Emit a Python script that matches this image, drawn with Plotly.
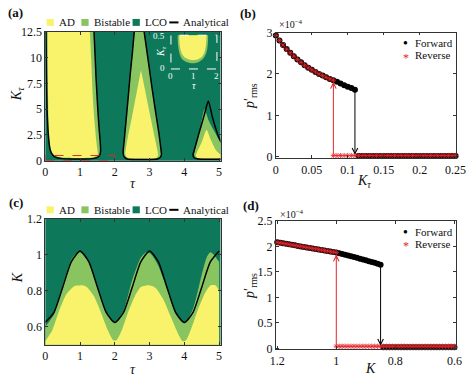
import plotly.graph_objects as go

FONT = "Liberation Serif"
C_AD = "#f9f36b"
C_BI = "#88c561"
C_LCO = "#0e785a"
C_RED = "#e3262b"
W, H = 474, 384


def px(x):
    return x / W


def py(y):
    return 1 - y / H


# ======================= DATA =======================
# (a) tau - K_tau map
a_tau_ticks = [0, 1, 2, 3, 4, 5]
a_k_ticks = [0, 2.5, 5, 7.5, 10, 12.5]
a_k_ticktext = ["0", "2.5", "5", "7.5", "10", "12.5"]

a_ana1_tau = [0.02, 0.03, 0.05, 0.07, 0.10, 0.13, 0.18, 0.25, 0.35, 0.50, 0.80, 1.10, 1.35, 1.48, 1.56, 1.59, 1.58, 1.55, 1.51, 1.46, 1.40]
a_ana1_k = [12.6, 9.0, 5.0, 3.4, 2.0, 1.2, 0.70, 0.42, 0.28, 0.20, 0.17, 0.17, 0.20, 0.30, 0.50, 0.90, 1.80, 3.00, 5.00, 8.00, 12.6]
a_ad1_tau = [0.07, 0.08, 0.10, 0.13, 0.18, 0.25, 0.35, 0.50, 0.80, 1.10, 1.35, 1.46, 1.51, 1.50, 1.47, 1.41, 1.36, 1.33, 1.28]
a_ad1_k = [12.6, 6.0, 3.0, 1.6, 0.90, 0.55, 0.38, 0.30, 0.26, 0.26, 0.30, 0.42, 0.65, 1.0, 1.8, 4.0, 6.6, 9.0, 12.6]

a_ana2_tau = [2.56, 2.505, 2.44, 2.38, 2.32, 2.27, 2.24, 2.25, 2.29, 2.36, 2.60, 3.00, 3.22, 3.30, 3.34, 3.33, 3.27, 3.16, 3.06, 2.97, 2.84]
a_ana2_k = [12.6, 10.5, 8.3, 6.0, 3.8, 2.0, 0.9, 0.5, 0.3, 0.17, 0.12, 0.12, 0.16, 0.30, 0.60, 1.0, 2.6, 5.0, 7.3, 9.5, 12.6]
a_ad2_tau = [2.75, 2.62, 2.49, 2.37, 2.32, 2.30, 2.33, 2.40, 2.70, 3.10, 3.20, 3.24, 3.23, 3.15, 3.04, 2.89, 2.80]
a_ad2_k = [8.8, 6.5, 4.2, 2.2, 1.2, 0.7, 0.4, 0.24, 0.20, 0.20, 0.28, 0.5, 0.9, 2.2, 4.0, 6.5, 8.0]

a_ana3_tau = [5.30, 4.60, 4.40, 4.30, 4.26, 4.25, 4.29, 4.42, 4.57, 4.69, 4.81, 4.95, 5.05, 5.20]
a_ana3_k = [0.15, 0.15, 0.17, 0.25, 0.40, 0.60, 1.07, 2.65, 4.40, 5.80, 4.20, 2.65, 1.86, 0.90]
a_bi3_tau = [5.30, 4.40, 4.31, 4.28, 4.31, 4.45, 4.58, 4.70, 4.82, 4.92, 5.04, 5.30]
a_bi3_k = [0.17, 0.18, 0.26, 0.6, 1.1, 3.0, 5.0, 3.9, 3.1, 2.5, 1.75, 0.8]
a_ad3_tau = [5.30, 4.45, 4.36, 4.33, 4.36, 4.50, 4.64, 4.75, 4.90, 5.04, 5.30]
a_ad3_k = [0.22, 0.22, 0.28, 0.5, 0.8, 1.8, 3.0, 2.1, 1.07, 0.6, 0.35]

# zoom box of inset
a_box_tau = [0, 2]
a_box_k = [0, 0.5]

# inset (0<=tau<=2, 0<=K_tau<=0.5)
ins_bi_tau = [0.29, 0.30, 0.33, 0.40, 0.50, 0.70, 0.95, 1.20, 1.40, 1.52, 1.58, 1.61, 1.62]
ins_bi_k = [0.52, 0.4, 0.3, 0.2, 0.14, 0.10, 0.085, 0.10, 0.15, 0.22, 0.30, 0.40, 0.52]
ins_ad_tau = [0.36, 0.37, 0.41, 0.48, 0.60, 0.80, 0.95, 1.15, 1.35, 1.46, 1.52, 1.55]
ins_ad_k = [0.52, 0.4, 0.3, 0.22, 0.17, 0.14, 0.13, 0.14, 0.18, 0.25, 0.35, 0.52]

# (b) p'_rms (x1e-4) vs K_tau
b_k_upper = [0.000, 0.005, 0.010, 0.015, 0.020, 0.025, 0.030, 0.035, 0.040, 0.045, 0.050, 0.055,
             0.060, 0.065, 0.070, 0.075, 0.080, 0.085, 0.090, 0.095, 0.100, 0.105, 0.110]
b_p_upper = [2.93, 2.81, 2.70, 2.60, 2.51, 2.43, 2.35, 2.28, 2.21, 2.15, 2.10, 2.05,
             2.00, 1.96, 1.92, 1.88, 1.85, 1.81, 1.77, 1.73, 1.69, 1.66, 1.62]
b_k_low_fwd = [0.115, 0.120, 0.125, 0.130, 0.135, 0.140, 0.145, 0.150, 0.155, 0.160, 0.165, 0.170, 0.175, 0.180,
               0.185, 0.190, 0.195, 0.200, 0.205, 0.210, 0.215, 0.220, 0.225, 0.230, 0.235, 0.240, 0.245, 0.250]
b_p_low_fwd = [0.02, 0.02, 0.02, 0.02, 0.02, 0.02, 0.02, 0.02, 0.02, 0.02, 0.02, 0.02, 0.02, 0.02,
               0.02, 0.02, 0.02, 0.02, 0.02, 0.02, 0.02, 0.02, 0.02, 0.02, 0.02, 0.02, 0.02, 0.02]
b_k_low_rev = [0.080, 0.085, 0.090, 0.095, 0.100, 0.105, 0.110, 0.115, 0.120, 0.125, 0.130, 0.135, 0.140, 0.145,
               0.150, 0.155, 0.160, 0.165, 0.170, 0.175, 0.180, 0.185, 0.190, 0.195, 0.200, 0.205, 0.210,
               0.215, 0.220, 0.225, 0.230, 0.235, 0.240, 0.245, 0.250]
b_p_low_rev = [0.03, 0.03, 0.03, 0.03, 0.03, 0.03, 0.03, 0.03, 0.03, 0.03, 0.03, 0.03, 0.03, 0.03,
               0.03, 0.03, 0.03, 0.03, 0.03, 0.03, 0.03, 0.03, 0.03, 0.03, 0.03, 0.03, 0.03,
               0.03, 0.03, 0.03, 0.03, 0.03, 0.03, 0.03, 0.03]
b_rev_jump_index = 16  # reverse sweep jumps up at K_tau = 0.08

# (c) tau - K map
c_ana_tau = [0, 0.25, 0.5, 0.75, 1.0, 1.25, 1.5, 1.75, 2.0, 2.25, 2.5, 2.75, 3.0, 3.25, 3.5, 3.75,
             4.0, 4.25, 4.5, 4.75, 5.0]
c_ana_k = [0.625, 0.68, 0.82, 0.962, 1.022, 0.962, 0.82, 0.68, 0.624, 0.68, 0.82, 0.962, 1.022, 0.962,
           0.82, 0.68, 0.624, 0.68, 0.82, 0.962, 1.022]
c_bi_tau = [0, 0.25, 0.5, 0.75, 0.9, 1.0, 1.1, 1.25, 1.5, 1.75, 2.0, 2.25, 2.5, 2.75, 2.9, 3.0, 3.1,
            3.25, 3.5, 3.75, 4.0, 4.25, 4.5, 4.65, 4.75, 4.85, 5.0]
c_bi_k = [0.60, 0.67, 0.83, 0.975, 1.01, 1.015, 1.0, 0.96, 0.82, 0.68, 0.625, 0.69, 0.86, 0.985, 1.015,
          1.01, 0.99, 0.94, 0.81, 0.67, 0.62, 0.70, 0.89, 0.99, 1.015, 1.0, 0.96]
c_ad_tau = [0, 0.2, 0.4, 0.6, 0.8, 0.9, 1.0, 1.1, 1.2, 1.4, 1.6, 1.8, 1.95, 2.05, 2.2, 2.4, 2.6, 2.75,
            2.9, 3.0, 3.1, 3.2, 3.4, 3.6, 3.8, 3.95, 4.05, 4.2, 4.4, 4.6, 4.75, 4.9, 5.0]
c_ad_k = [0.52, 0.58, 0.69, 0.78, 0.822, 0.83, 0.83, 0.83, 0.82, 0.77, 0.68, 0.58, 0.525, 0.525, 0.58,
          0.69, 0.78, 0.822, 0.83, 0.83, 0.825, 0.81, 0.75, 0.66, 0.57, 0.52, 0.525, 0.59, 0.70, 0.79,
          0.83, 0.83, 0.80]

# (d) p'_rms (x1e-4) vs K
d_k_upper = [1.20, 1.19, 1.18, 1.17, 1.16, 1.15, 1.14, 1.13, 1.12, 1.11, 1.10, 1.09, 1.08, 1.07, 1.06,
             1.05, 1.04, 1.03, 1.02, 1.01, 1.00, 0.99, 0.98, 0.97, 0.96, 0.95, 0.94, 0.93, 0.92, 0.91,
             0.90, 0.89, 0.88, 0.87, 0.86, 0.85]
d_p_upper = [2.08, 2.07, 2.06, 2.05, 2.04, 2.03, 2.02, 2.01, 2.00, 1.99, 1.98, 1.97, 1.96, 1.95, 1.94,
             1.93, 1.92, 1.91, 1.90, 1.89, 1.88, 1.865, 1.85, 1.835, 1.82, 1.805, 1.79, 1.775, 1.76,
             1.745, 1.73, 1.71, 1.695, 1.68, 1.66, 1.64]
d_k_low_fwd = [0.84, 0.83, 0.82, 0.81, 0.80, 0.79, 0.78, 0.77, 0.76, 0.75, 0.74, 0.73, 0.72, 0.71, 0.70,
               0.69, 0.68, 0.67, 0.66, 0.65, 0.64, 0.63, 0.62, 0.61, 0.60]
d_p_low_fwd = [0.02, 0.02, 0.02, 0.02, 0.02, 0.02, 0.02, 0.02, 0.02, 0.02, 0.02, 0.02, 0.02, 0.02, 0.02,
               0.02, 0.02, 0.02, 0.02, 0.02, 0.02, 0.02, 0.02, 0.02, 0.02]
d_k_low_rev = [1.00, 0.99, 0.98, 0.97, 0.96, 0.95, 0.94, 0.93, 0.92, 0.91, 0.90, 0.89, 0.88, 0.87, 0.86,
               0.85, 0.84, 0.83, 0.82, 0.81, 0.80, 0.79, 0.78, 0.77, 0.76, 0.75, 0.74, 0.73, 0.72, 0.71,
               0.70, 0.69, 0.68, 0.67, 0.66, 0.65, 0.64, 0.63, 0.62, 0.61, 0.60]
d_p_low_rev = [0.04, 0.04, 0.04, 0.04, 0.04, 0.04, 0.04, 0.04, 0.04, 0.04, 0.04, 0.04, 0.04, 0.04, 0.04,
               0.04, 0.04, 0.04, 0.04, 0.04, 0.04, 0.04, 0.04, 0.04, 0.04, 0.04, 0.04, 0.04, 0.04, 0.04,
               0.04, 0.04, 0.04, 0.04, 0.04, 0.04, 0.04, 0.04, 0.04, 0.04, 0.04]
d_rev_jump_index = 20  # reverse sweep jumps up at K = 1.0

# ======================= FIGURE =======================
fig = go.Figure()


def poly(x, y, color, xa="x", ya="y", smooth=True):
    fig.add_trace(go.Scatter(x=x, y=y, fill="toself", fillcolor=color, mode="lines",
                             line=dict(width=0, shape="spline" if smooth else "linear", smoothing=0.6),
                             xaxis=xa, yaxis=ya, showlegend=False, hoverinfo="skip"))


def curve(x, y, xa="x", ya="y", width=1.5):
    fig.add_trace(go.Scatter(x=x, y=y, mode="lines", line=dict(color="black", width=width, shape="spline", smoothing=0.6),
                             xaxis=xa, yaxis=ya, showlegend=False, hoverinfo="skip"))


# panel (a)
poly(a_ana1_tau, a_ana1_k, C_BI)
poly(a_ad1_tau, a_ad1_k, C_AD)
poly(a_ana2_tau, a_ana2_k, C_BI)
poly(a_ad2_tau, a_ad2_k, C_AD)
poly(a_bi3_tau, a_bi3_k, C_BI)
poly(a_ad3_tau, a_ad3_k, C_AD)
curve(a_ana1_tau, a_ana1_k)
curve(a_ana2_tau, a_ana2_k)
curve(a_ana3_tau, a_ana3_k)

# inset
poly(ins_bi_tau, ins_bi_k, C_BI, "x5", "y5")
poly(ins_ad_tau, ins_ad_k, C_AD, "x5", "y5")

# panel (c)
fig.add_trace(go.Scatter(x=c_bi_tau, y=c_bi_k, fill="tozeroy", fillcolor=C_BI, mode="lines",
                         line=dict(width=0, shape="spline", smoothing=0.6), xaxis="x3", yaxis="y3",
                         showlegend=False, hoverinfo="skip"))
fig.add_trace(go.Scatter(x=c_ad_tau, y=c_ad_k, fill="tozeroy", fillcolor=C_AD, mode="lines",
                         line=dict(width=0, shape="spline", smoothing=0.6), xaxis="x3", yaxis="y3",
                         showlegend=False, hoverinfo="skip"))
curve(c_ana_tau, c_ana_k, "x3", "y3")


def sweep(xa, ya, k_up, p_up, k_lf, p_lf, k_lr, p_lr, jump):
    fig.add_trace(go.Scatter(x=k_up + k_lf, y=p_up + p_lf, mode="markers",
                             marker=dict(symbol="circle", size=6, color="black"),
                             xaxis=xa, yaxis=ya, showlegend=False, hoverinfo="skip", cliponaxis=False))
    fig.add_trace(go.Scatter(x=k_up[:jump + 1] + k_lr, y=p_up[:jump + 1] + p_lr, mode="markers",
                             marker=dict(symbol="asterisk-open", size=4.5, color=C_RED,
                                         line=dict(color=C_RED, width=0.8)),
                             xaxis=xa, yaxis=ya, showlegend=False, hoverinfo="skip", cliponaxis=False))


sweep("x2", "y2", b_k_upper, b_p_upper, b_k_low_fwd, b_p_low_fwd, b_k_low_rev, b_p_low_rev, b_rev_jump_index)
sweep("x4", "y4", d_k_upper, d_p_upper, d_k_low_fwd, d_p_low_fwd, d_k_low_rev, d_p_low_rev, d_rev_jump_index)

# ======================= AXES =======================
TICKFONT = dict(family=FONT, size=12, color="#111")


def ax(**kw):
    d = dict(showline=True, linecolor="#333", linewidth=0.8, mirror="ticks", ticks="inside", ticklen=3,
             tickcolor="#333", tickwidth=0.8, showgrid=False, zeroline=False, tickfont=TICKFONT,
             ticklabeloverflow="allow")
    d.update(kw)
    return d


fig.update_layout(
    width=W, height=H, margin=dict(l=0, r=0, t=0, b=0),
    paper_bgcolor="white", plot_bgcolor="rgba(0,0,0,0)",
    xaxis=ax(domain=[px(40.7), px(222)], range=[0, 5.04], tickvals=a_tau_ticks, anchor="y"),
    yaxis=ax(domain=[py(159.5), py(26)], range=[0, 12.5], tickvals=a_k_ticks, ticktext=a_k_ticktext, anchor="x"),
    xaxis2=ax(domain=[px(279.3), px(465.3)], range=[0, 0.25], tickvals=[0, 0.05, 0.1, 0.15, 0.2, 0.25],
              ticktext=["0", "0.05", "0.1", "0.15", "0.2", "0.25"], anchor="y2"),
    yaxis2=ax(domain=[py(157), py(26.5)], range=[-0.035, 3], tickvals=[0, 1, 2, 3], anchor="x2"),
    xaxis3=ax(domain=[px(40.7), px(222)], range=[0, 5.04], tickvals=a_tau_ticks, anchor="y3"),
    yaxis3=ax(domain=[py(350.5), py(220)], range=[0.5, 1.2], tickvals=[0.6, 0.8, 1, 1.2],
              ticktext=["0.6", "0.8", "1", "1.2"], anchor="x3"),
    xaxis4=ax(domain=[px(279.3), px(465.3)], range=[1.2046, 0.596], tickvals=[1.2, 1, 0.8, 0.6],
              ticktext=["1.2", "1", "0.8", "0.6"], anchor="y4"),
    yaxis4=ax(domain=[py(355.3), py(222)], range=[-0.02, 2.5], tickvals=[0, 0.5, 1, 1.5, 2, 2.5],
              ticktext=["0", "0.5", "1", "1.5", "2", "2.5"], anchor="x4"),
    xaxis5=dict(domain=[px(170.7), px(218.3)], range=[0, 2], visible=False, anchor="y5"),
    yaxis5=dict(domain=[py(64.3), py(29.3)], range=[0, 0.5], visible=False, anchor="x5"),
)

# ======================= SHAPES =======================
shapes = [
    dict(type="rect", xref="x domain", yref="y domain", x0=0, x1=1, y0=0, y1=1, fillcolor=C_LCO,
         line=dict(width=0), layer="below"),
    dict(type="rect", xref="x3 domain", yref="y3 domain", x0=0, x1=1, y0=0, y1=1, fillcolor=C_LCO,
         line=dict(width=0), layer="below"),
    dict(type="rect", xref="x", yref="y", x0=a_box_tau[0], x1=a_box_tau[1], y0=a_box_k[0], y1=a_box_k[1],
         line=dict(color=C_RED, width=1, dash="dash")),
    dict(type="rect", xref="x5 domain", yref="y5 domain", x0=0, x1=1, y0=0, y1=1,
         line=dict(color="white", width=1, dash="dash")),
]

# legends for (a) and (c)
for yc in (16, 210.5):
    for (x0, col) in ((42, C_AD), (78, C_BI), (131, C_LCO)):
        shapes.append(dict(type="rect", xref="paper", yref="paper", x0=px(x0), x1=px(x0 + 7.5),
                           y0=py(yc + 3.6), y1=py(yc - 3.6), fillcolor=col, line=dict(width=0)))
    shapes.append(dict(type="line", xref="paper", yref="paper", x0=px(169), x1=px(178.5), y0=py(yc), y1=py(yc),
                       line=dict(color="black", width=2)))
fig.update_layout(shapes=shapes)

# ======================= TEXT =======================
anns = []


def ann(text, x, y, size=11, xanchor="center", yanchor="middle", color="#111", angle=0, **kw):
    anns.append(dict(text=text, x=px(x), y=py(y), xref="paper", yref="paper", showarrow=False,
                     xanchor=xanchor, yanchor=yanchor, textangle=angle,
                     font=dict(family=FONT, size=size, color=color), **kw))


# panel labels
ann("<b>(a)</b>", 0, 6, size=13, xanchor="left")
ann("<b>(b)</b>", 240, 6.5, size=13, xanchor="left")
ann("<b>(c)</b>", 1, 202.5, size=13, xanchor="left")
ann("<b>(d)</b>", 243, 206.5, size=13, xanchor="left")

# legend texts (a), (c)
for yc in (16, 210.5):
    ann("AD", 53, yc, xanchor="left")
    ann("Bistable", 89.5, yc, xanchor="left")
    ann("LCO", 141.5, yc, xanchor="left")
    ann("Analytical", 181.5, yc, xanchor="left")

# axis titles
ann("<i>τ</i>", 131, 183, size=14)
ann("<i>K</i><sub><i>τ</i></sub>", 12, 91, size=14, angle=-90)
ann("<i>K</i><sub><i>τ</i></sub>", 371, 181, size=14)
ann("<i>p</i>′<sub>rms</sub>", 253, 92, size=14, angle=-90)
ann("<i>τ</i>", 131, 376, size=14)
ann("<i>K</i>", 12, 281, size=14, angle=-90)
ann("<i>K</i>", 377, 375, size=14)
ann("<i>p</i>′<sub>rms</sub>", 253, 289, size=14, angle=-90)

# exponent labels
ann("×10<sup>−4</sup>", 280, 18, size=10, xanchor="left")
ann("×10<sup>−4</sup>", 281, 215, size=10, xanchor="left")

# legends (b), (d)
for (yf, yr) in ((37, 50), (233, 246)):
    ann("●", 413.7, yf, size=8, color="black")
    ann("Forward", 421, yf, xanchor="left")
    ann("*", 413.7, yr + 2.5, size=12, color=C_RED)
    ann("Reverse", 421, yr, xanchor="left")

# inset labels
WH = "white"
ann("0.5", 167, 30, size=9, xanchor="right", color=WH)
ann("0", 167, 63.5, size=9, xanchor="right", color=WH)
ann("0", 170.7, 71.5, size=9, color=WH)
ann("1", 194.5, 71.5, size=9, color=WH)
ann("2", 218.3, 71.5, size=9, color=WH)
ann("<i>K</i><sub><i>τ</i></sub>", 161, 46, size=10, angle=-90, color=WH)
ann("<i>τ</i>", 194.5, 81, size=10, color=WH)


# jump arrows (from the data arrays)
def arrow(xa, ya, k, p_from, p_to, color):
    anns.append(dict(x=k, y=p_to, ax=k, ay=p_from, xref=xa, yref=ya, axref=xa, ayref=ya, text="",
                     showarrow=True, arrowhead=5, arrowsize=1.1, arrowwidth=1, arrowcolor=color,
                     standoff=0, startstandoff=0))


arrow("x2", "y2", b_k_upper[-1], b_p_upper[-1], b_p_low_fwd[0] + 0.03, "black")
arrow("x2", "y2", b_k_low_rev[0], b_p_low_rev[0], b_p_upper[b_rev_jump_index] - 0.04, C_RED)
arrow("x4", "y4", d_k_upper[-1], d_p_upper[-1], d_p_low_fwd[0] + 0.03, "black")
arrow("x4", "y4", d_k_low_rev[0], d_p_low_rev[0], d_p_upper[d_rev_jump_index] - 0.04, C_RED)

fig.update_layout(annotations=anns)
fig.write_html("out.html", config={"displayModeBar": False},
               post_script="document.body.style.margin='0';document.body.style.overflow='hidden';")
